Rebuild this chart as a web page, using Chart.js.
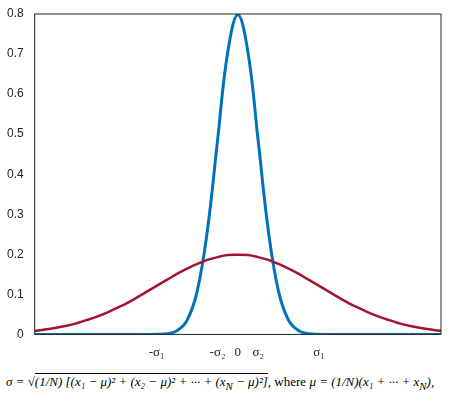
<!DOCTYPE html><html><head><meta charset="utf-8">
<script src="https://cdn.jsdelivr.net/npm/chart.js@4"></script>
<style>body{margin:0;background:#fff;font-family:"Liberation Serif",serif}
#w{position:relative;width:474px;height:362px}
#f{position:absolute;left:6px;top:374px;font-size:13px;font-style:italic;white-space:nowrap}</style></head><body>
<div id="w"><canvas id="c"></canvas></div>
<div id="f">σ = √<span style="border-top:1px solid #000">(1/N) [(x₁ − μ)² + (x₂ − μ)² + ··· + (x<sub>N</sub> − μ)²]</span>, <span style="font-style:normal">where</span> μ = (1/N)(x₁ + ··· + x<sub>N</sub>),</div>
<script>
const xs=[-5,-4.75,-4.5,-4.25,-4,-3.75,-3.5,-3.25,-3,-2.75,-2.5,-2.25,-2,-1.75,-1.5,-1.25,-1,-0.75,-0.5,-0.25,0,0.25,0.5,0.75,1,1.25,1.5,1.75,2,2.25,2.5,2.75,3,3.25,3.5,3.75,4,4.25,4.5,4.75,5];
const blue=[0,0,0,0,0,0,0,0,0,0,0,0,0.0003,0.0017,0.0089,0.035,0.108,0.259,0.484,0.704,0.798,0.704,0.484,0.259,0.108,0.035,0.0089,0.0017,0.0003,0,0,0,0,0,0,0,0,0,0,0,0];
const red=[0.0088,0.012,0.016,0.021,0.027,0.035,0.043,0.053,0.065,0.077,0.091,0.106,0.121,0.136,0.151,0.164,0.176,0.186,0.193,0.198,0.199,0.198,0.193,0.186,0.176,0.164,0.151,0.136,0.121,0.106,0.091,0.077,0.065,0.053,0.043,0.035,0.027,0.021,0.016,0.012,0.0088];
const xTickVals=[-2,-0.5,0,0.5,2];
const xTickLabels=['-σ₁','-σ₂','0','σ₂','σ₁'];
const yTicks=[0,0.1,0.2,0.3,0.4,0.5,0.6,0.7,0.8];
const border={id:'b',afterDraw(c){const a=c.chartArea,x=c.ctx;x.save();x.strokeStyle='#222';x.lineWidth=1;x.strokeRect(a.left,a.top,a.right-a.left,a.bottom-a.top);x.restore();}};
new Chart(document.getElementById('c'),{type:'line',data:{datasets:[
{data:xs.map((x,i)=>({x,y:red[i]})),borderColor:'#a2142f',borderWidth:2.5,pointRadius:0,tension:0.4},
{data:xs.map((x,i)=>({x,y:blue[i]})),borderColor:'#0072bd',borderWidth:3,pointRadius:0,tension:0.4}]},
options:{animation:false,maintainAspectRatio:false,responsive:true,layout:{padding:{top:14,right:33,left:4,bottom:0}},plugins:{legend:{display:false},tooltip:{enabled:false}},
scales:{x:{type:'linear',min:-5,max:5,grid:{display:false},border:{display:false},afterBuildTicks(s){s.ticks=xTickVals.map(v=>({value:v}));},
ticks:{autoSkip:false,maxRotation:0,padding:2,color:'#222',font:{family:'Liberation Serif',size:13},callback:(v)=>xTickLabels[xTickVals.indexOf(v)]}},
y:{min:0,max:0.8,grid:{display:false},border:{display:false},afterBuildTicks(s){s.ticks=yTicks.map(v=>({value:v}));},
ticks:{color:'#222',font:{family:'Liberation Sans',size:12},callback:v=>String(+v.toFixed(1))}}}},plugins:[border]});
</script></body></html>
